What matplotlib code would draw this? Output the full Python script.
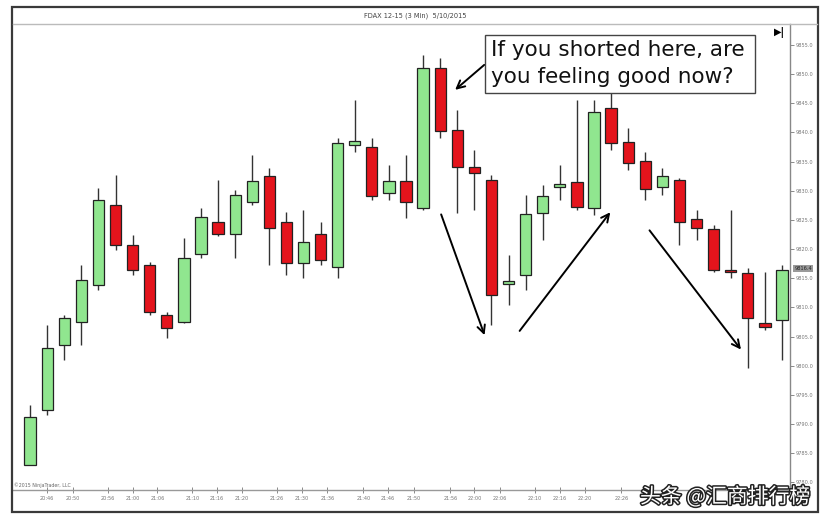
import numpy as np
import matplotlib.pyplot as plt
from matplotlib.patches import Rectangle
import matplotlib.patheffects as pe

# Datos OHLC de las velas de 3 minutos
opens = [9783.0, 9792.4, 9803.5, 9807.5, 9813.8, 9827.6, 9820.7, 9817.3, 9808.7, 9807.5,
         9819.1, 9824.6, 9822.6, 9828.1, 9832.5, 9824.6, 9817.6, 9822.6, 9816.9, 9837.8,
         9837.5, 9829.6, 9831.7, 9827.0, 9851.1, 9840.4, 9834.1, 9831.8, 9814.0, 9815.5,
         9826.2, 9830.6, 9831.5, 9827.0, 9844.2, 9838.3, 9835.1, 9830.6, 9831.8, 9825.2,
         9823.4, 9816.2, 9815.9, 9807.3, 9807.8]
highs = [9793.3, 9807.0, 9808.7, 9817.3, 9830.5, 9832.7, 9822.4, 9817.8, 9809.2, 9821.9,
         9827.0, 9831.8, 9830.1, 9836.1, 9833.9, 9826.4, 9826.7, 9824.6, 9839.0, 9845.6,
         9839.0, 9834.4, 9836.1, 9853.3, 9852.8, 9843.9, 9837.0, 9832.7, 9819.0, 9829.3,
         9831.0, 9834.4, 9845.6, 9845.6, 9846.9, 9840.8, 9836.6, 9833.9, 9832.2, 9826.7,
         9824.1, 9826.7, 9816.7, 9816.1, 9817.3]
lows = [9783.0, 9791.5, 9801.0, 9803.5, 9813.0, 9819.8, 9815.5, 9808.7, 9804.7, 9807.3,
        9818.5, 9822.2, 9818.5, 9827.6, 9817.3, 9815.5, 9815.0, 9817.3, 9815.0, 9836.6,
        9828.4, 9828.4, 9825.3, 9826.7, 9839.0, 9826.2, 9826.7, 9807.0, 9810.4, 9813.0,
        9821.6, 9828.4, 9826.7, 9825.8, 9837.0, 9833.6, 9828.4, 9829.3, 9820.7, 9821.6,
        9816.1, 9815.0, 9799.6, 9806.1, 9801.0]
closes = [9791.2, 9803.0, 9808.2, 9814.7, 9828.4, 9820.7, 9816.4, 9809.2, 9806.5, 9818.5,
          9825.5, 9822.6, 9829.3, 9831.7, 9823.6, 9817.6, 9821.2, 9818.1, 9838.2, 9838.5,
          9829.1, 9831.7, 9828.1, 9851.1, 9840.2, 9834.1, 9833.0, 9812.1, 9814.5, 9826.0,
          9829.1, 9831.2, 9827.2, 9843.5, 9838.2, 9834.8, 9830.3, 9832.5, 9824.6, 9823.6,
          9816.4, 9816.1, 9808.2, 9806.6, 9816.4]

price_ticks = np.arange(9780, 9856, 5)
# las etiquetas de después de 22:26 quedan tapadas por la marca de agua
time_labels = ["20:46", "20:50", "20:56", "21:00", "21:06", "21:10", "21:16", "21:20",
               "21:26", "21:30", "21:36", "21:40", "21:46", "21:50", "21:56", "22:00",
               "22:06", "22:10", "22:16", "22:20", "22:26"]
# posición de cada etiqueta de hora, en número de vela
time_pos = [1.0, 2.5, 4.55, 6.0, 7.45, 9.5, 10.95, 12.4, 14.45, 15.9, 17.4, 19.5, 20.95,
            22.45, 24.6, 26.0, 27.5, 29.55, 31.0, 32.45, 34.6]

# flechas (desde, hasta) en coordenadas de vela / precio
arrows = [((26.7, 9851.9), (24.75, 9847.0)),
          ((24.0, 9826.4), (26.65, 9804.8)),
          ((28.55, 9805.6), (34.05, 9826.7)),
          ((36.15, 9823.6), (41.7, 9802.4))]

GREEN = '#90e68f'
RED = '#e4141c'

fig = plt.figure(figsize=(8.3, 5.22), dpi=100)
ax = fig.add_axes([13 / 830, 1 - 490 / 522, 777 / 830, 466 / 522])

x = np.arange(len(opens))
o = np.array(opens)
c = np.array(closes)
up = c >= o
colors = [GREEN if u else RED for u in up]
bottoms = np.minimum(o, c)
heights = np.maximum(np.abs(c - o), 0.35)

ax.vlines(x, lows, highs, color='#333333', linewidth=1.0, zorder=1)
ax.bar(x, heights, bottom=bottoms, width=0.66, color=colors,
       edgecolor='#222222', linewidth=0.9, zorder=2)

ax.set_xlim(-1.0, 44.47)
ax.set_ylim(9778.7, 9858.6)

# eje de precios a la derecha
ax.yaxis.tick_right()
ax.set_yticks(price_ticks)
ax.set_yticklabels([f"{p:.1f}" for p in price_ticks])
ax.tick_params(axis='y', labelsize=3.6, colors='#777777', length=3, width=0.6, pad=1)
ax.set_xticks(time_pos)
ax.set_xticklabels(time_labels)
ax.tick_params(axis='x', labelsize=3.6, colors='#777777', length=4, width=0.6,
               direction='inout', pad=2)

for side in ['top', 'left']:
    ax.spines[side].set_visible(False)
ax.spines['right'].set_color('#888888')
ax.spines['bottom'].set_color('#999999')
ax.spines['right'].set_linewidth(1.0)
ax.spines['bottom'].set_linewidth(1.0)

# etiqueta del último precio
ax.annotate(f"{closes[-1]:.1f}", xy=(1.0, closes[-1]), xycoords=('axes fraction', 'data'),
            xytext=(3, 1), textcoords='offset points', fontsize=3.6, color='#222222',
            va='center', ha='left', annotation_clip=False,
            bbox=dict(boxstyle='square,pad=0.25', fc='#9a9a9a', ec='none'))

ax.text(0.001, 0.004, "©2015 NinjaTrader, LLC", transform=ax.transAxes,
        fontsize=3.4, color='#666666', ha='left', va='bottom')

# flechas
for (x0, y0), (x1, y1) in arrows:
    ax.annotate('', xy=(x1, y1), xytext=(x0, y0),
                arrowprops=dict(arrowstyle='->', color='black', lw=1.4,
                                mutation_scale=14))

# marco exterior, barra de título
fig.patches.append(Rectangle((12 / 830, 1 - 512 / 522), 806 / 830, 505 / 522,
                             transform=fig.transFigure, fill=False,
                             ec='#3a3a3a', lw=1.6))
fig.lines.append(plt.Line2D([13 / 830, 817 / 830], [1 - 24 / 522] * 2,
                            transform=fig.transFigure, color='#bbbbbb', lw=1.0))
fig.text(0.5, 1 - 15.5 / 522, "FDAX 12-15 (3 Min)  5/10/2015", fontsize=4.8,
         color='#444444', ha='center', va='center')
fig.text(780 / 830, 1 - 33 / 522, "▶|", fontsize=7, color='black',
         ha='center', va='center', fontweight='bold')

# cuadro de texto
fig.patches.append(Rectangle((485 / 830, 1 - 93 / 522), 270 / 830, 58 / 522,
                             transform=fig.transFigure, fc='white',
                             ec='#444444', lw=1.0, zorder=5))
fig.text(491 / 830, 1 - 50 / 522, "If you shorted here, are", fontsize=15.5,
         color='#111111', ha='left', va='center', zorder=6)
fig.text(491 / 830, 1 - 77 / 522, "you feeling good now?", fontsize=15.5,
         color='#111111', ha='left', va='center', zorder=6)

# marca de agua
fig.text(640 / 830, 1 - 497 / 522, "头条 @汇商排行榜", fontsize=15,
         family=['Noto Sans CJK SC', 'DejaVu Sans'], color='white',
         ha='left', va='center', zorder=10,
         path_effects=[pe.withStroke(linewidth=2.2, foreground='#222222')])

fig.savefig('out.png', dpi=100)
